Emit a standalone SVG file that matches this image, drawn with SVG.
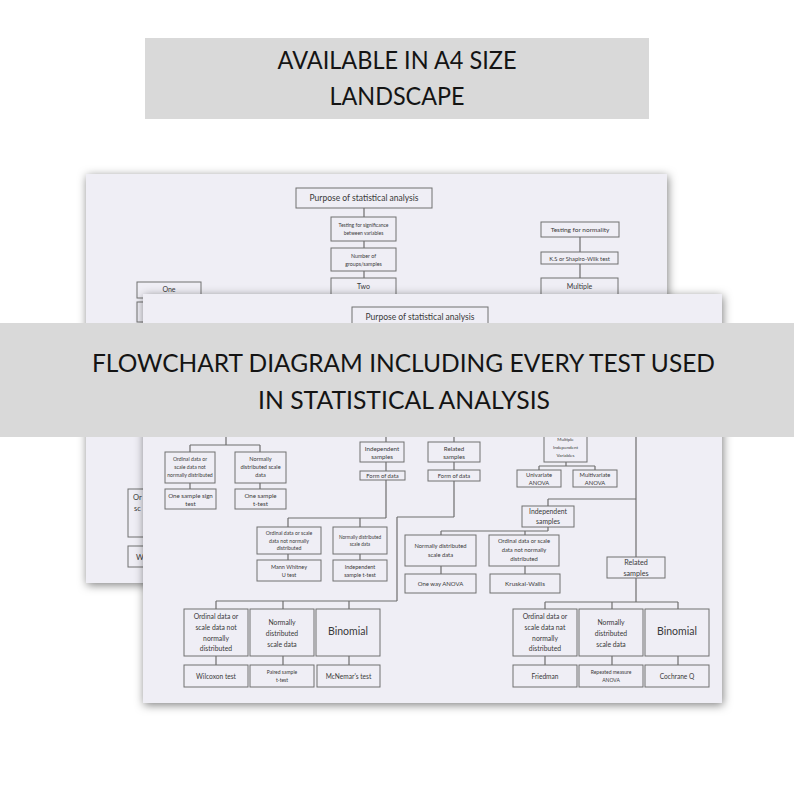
<svg xmlns="http://www.w3.org/2000/svg" width="794" height="794" viewBox="0 0 794 794">
<defs>
<filter id="sh" x="-10%" y="-10%" width="120%" height="125%">
<feDropShadow dx="1" dy="2" stdDeviation="5" flood-color="#000" flood-opacity="0.5"/>
</filter>
<style>
.sheet{fill:#efeef5}
.b{fill:#efeef5;stroke:#707070;stroke-width:1}
.c{fill:none;stroke:#6e6e6e;stroke-width:1.2}
.t{font-family:Lato,"Liberation Sans",sans-serif;fill:#3a3a3a;text-anchor:middle}
.ts{font-family:Lato,"Liberation Sans",sans-serif;fill:#3a3a3a;text-anchor:start}
.ban{fill:#d9d9d9}
.bt{font-family:Lato,"Liberation Sans",sans-serif;fill:#141414;text-anchor:middle;font-size:25px}
</style>
</defs>
<rect width="794" height="794" fill="#ffffff"/>

<g id="top-banner">
<rect class="ban" x="145" y="38" width="504" height="81"/>
<text class="bt" x="397" y="69" textLength="239" lengthAdjust="spacingAndGlyphs">AVAILABLE IN A4 SIZE</text>
<text class="bt" x="397" y="105" textLength="135" lengthAdjust="spacingAndGlyphs">LANDSCAPE</text>
</g>

<g id="back-sheet">
<rect class="sheet" x="86" y="174" width="581" height="409" filter="url(#sh)"/>
<g id="back-connectors">
<path class="c" d="M364 208V217M364 241V248M364 271V278M580 237V252M580 264V278"/>
</g>
<g id="b-purpose"><rect class="b" x="296" y="188" width="136" height="20"/><text class="t" x="364" y="201" font-size="8.5">Purpose of statistical analysis</text></g>
<g id="b-sig"><rect class="b" x="331" y="217" width="65" height="24"/><text class="t" x="363.5" y="227" font-size="5">Testing for significance</text><text class="t" x="363.5" y="235" font-size="5">between variables</text></g>
<g id="b-num"><rect class="b" x="331" y="248" width="65" height="23"/><text class="t" x="363.5" y="257.5" font-size="5.3">Number of</text><text class="t" x="363.5" y="266" font-size="5.3">groups/samples</text></g>
<g id="b-two"><rect class="b" x="331" y="278" width="65" height="20"/><text class="t" x="363.5" y="289" font-size="7">Two</text></g>
<g id="b-one"><rect class="b" x="137" y="282" width="64" height="16"/><text class="t" x="169" y="291.5" font-size="7">One</text></g>
<g id="b-one-child"><rect class="b" x="137" y="302" width="40" height="20"/></g>
<g id="b-normality"><rect class="b" x="541" y="222" width="78" height="15"/><text class="t" x="580" y="232" font-size="6.5">Testing for normality</text></g>
<g id="b-ks"><rect class="b" x="541" y="252" width="77" height="12"/><text class="t" x="579.5" y="260.5" font-size="5.8">K.S or Shapiro-Wilk test</text></g>
<g id="b-multiple"><rect class="b" x="541" y="278" width="77" height="20"/><text class="t" x="579.5" y="289" font-size="7">Multiple</text></g>
<g id="b-ordinal"><rect class="b" x="128" y="489" width="40" height="48"/><text class="ts" x="133" y="500" font-size="7.5">Or</text><text class="ts" x="134" y="511" font-size="7.5">sc</text></g>
<g id="b-wilcoxon"><rect class="b" x="128" y="546" width="40" height="21"/><text class="ts" x="136" y="560" font-size="7.5">W</text></g>
</g>

<g id="front-sheet">
<rect class="sheet" x="143" y="294" width="579" height="409" filter="url(#sh)"/>
<g id="connectors">
<path class="c" d="M420 325V330M226 437V445M190 445H260M190 445V452M260 445V452M190 483V489M260 483V489"/>
<path class="c" d="M386 437V442M386 462V471M386 480V518M288 518H386M288 518V527M360 518V527M288 554V560M360 554V560"/>
<path class="c" d="M454 437V442M454 462V470M454 481V517M397 517H454M397 517V601M216 601H397M216 601V609M283 601V609M349 601V609M216 656V665M283 656V665M349 656V665"/>
<path class="c" d="M566 462V466M539 466H595M539 466V470M595 466V470"/>
<path class="c" d="M636 437V557M548 499H636M548 499V506M548 527V531M441 531H548M441 531V535M525 531V535M441 566V574M525 566V574"/>
<path class="c" d="M636 578V602M545 602H678M545 602V609M612 602V609M678 602V609M545 656V665M612 656V665M678 656V665"/>
</g>
<g id="purpose"><rect class="b" x="352" y="307" width="136" height="20"/><text class="t" x="420" y="319.5" font-size="8.5">Purpose of statistical analysis</text></g>
<g id="one-ordinal"><rect class="b" x="165" y="452" width="50" height="31"/><text class="t" x="190" y="461" font-size="5.2">Ordinal data or</text><text class="t" x="190" y="469" font-size="5.2">scale data not</text><text class="t" x="190" y="477" font-size="5.2">normally distributed</text></g>
<g id="one-normal"><rect class="b" x="235" y="452" width="51" height="31"/><text class="t" x="260.5" y="461" font-size="5.6">Normally</text><text class="t" x="260.5" y="469" font-size="5.6">distributed scale</text><text class="t" x="260.5" y="477" font-size="5.6">data</text></g>
<g id="sign-test"><rect class="b" x="165" y="489" width="51" height="20"/><text class="t" x="190.5" y="497.5" font-size="6.2">One sample sign</text><text class="t" x="190.5" y="505.5" font-size="6.2">test</text></g>
<g id="one-t-test"><rect class="b" x="235" y="489" width="51" height="20"/><text class="t" x="260.5" y="497.5" font-size="6.2">One sample</text><text class="t" x="260.5" y="505.5" font-size="6.2">t-test</text></g>
<g id="indep1"><rect class="b" x="360" y="442" width="44" height="20"/><text class="t" x="382" y="450.5" font-size="6.2">Independent</text><text class="t" x="382" y="458.5" font-size="6.2">samples</text></g>
<g id="form1"><rect class="b" x="360" y="471" width="45" height="9"/><text class="t" x="382.5" y="478" font-size="5.8">Form of data</text></g>
<g id="related1"><rect class="b" x="428" y="442" width="52" height="20"/><text class="t" x="454" y="450.5" font-size="6.2">Related</text><text class="t" x="454" y="458.5" font-size="6.2">samples</text></g>
<g id="form2"><rect class="b" x="428" y="470" width="52" height="11"/><text class="t" x="454" y="478" font-size="5.8">Form of data</text></g>
<g id="two-ind-ordinal"><rect class="b" x="257" y="527" width="64" height="27"/><text class="t" x="289" y="535" font-size="5.2">Ordinal data or scale</text><text class="t" x="289" y="542.5" font-size="5.2">data not normally</text><text class="t" x="289" y="550" font-size="5.2">distributed</text></g>
<g id="two-ind-normal"><rect class="b" x="333" y="527" width="54" height="27"/><text class="t" x="360" y="538.5" font-size="4.7">Normally distributed</text><text class="t" x="360" y="545.5" font-size="4.7">scale data</text></g>
<g id="mann-whitney"><rect class="b" x="257" y="560" width="64" height="21"/><text class="t" x="289" y="569" font-size="5.5">Mann Whitney</text><text class="t" x="289" y="577" font-size="5.5">U test</text></g>
<g id="indep-t"><rect class="b" x="333" y="560" width="54" height="21"/><text class="t" x="360" y="569" font-size="5.5">Independent</text><text class="t" x="360" y="577" font-size="5.5">sample t-test</text></g>
<g id="two-rel-ordinal"><rect class="b" x="184" y="609" width="64" height="47"/><text class="t" x="216" y="619" font-size="6.8">Ordinal data or</text><text class="t" x="216" y="630" font-size="6.8">scale data not</text><text class="t" x="216" y="641" font-size="6.8">normally</text><text class="t" x="216" y="651" font-size="6.8">distributed</text></g>
<g id="two-rel-normal"><rect class="b" x="250" y="609" width="64" height="47"/><text class="t" x="282" y="625" font-size="6.8">Normally</text><text class="t" x="282" y="636" font-size="6.8">distributed</text><text class="t" x="282" y="646.5" font-size="6.8">scale data</text></g>
<g id="two-rel-binomial"><rect class="b" x="316" y="609" width="64" height="47"/><text class="t" x="348" y="635" font-size="10.5">Binomial</text></g>
<g id="wilcoxon"><rect class="b" x="184" y="665" width="64" height="22"/><text class="t" x="216" y="678.5" font-size="6.6">Wilcoxon test</text></g>
<g id="paired-t"><rect class="b" x="250" y="665" width="64" height="22"/><text class="t" x="282" y="674" font-size="5">Paired sample</text><text class="t" x="282" y="682" font-size="5">t-test</text></g>
<g id="mcnemar"><rect class="b" x="317" y="665" width="63" height="22"/><text class="t" x="348.5" y="678.5" font-size="6.6">McNemar's test</text></g>
<g id="multi-iv"><rect class="b" x="544" y="428" width="43" height="34"/><text class="t" x="565.5" y="441" font-size="4.5">Multiple</text><text class="t" x="565.5" y="449" font-size="4.5">Independent</text><text class="t" x="565.5" y="456.5" font-size="4.5">Variables</text></g>
<g id="univariate"><rect class="b" x="517" y="470" width="44" height="17"/><text class="t" x="539" y="476.5" font-size="5.8">Univariate</text><text class="t" x="539" y="485" font-size="5.8">ANOVA</text></g>
<g id="multivariate"><rect class="b" x="573" y="470" width="44" height="17"/><text class="t" x="595" y="476.5" font-size="5.8">Multivariate</text><text class="t" x="595" y="485" font-size="5.8">ANOVA</text></g>
<g id="indep2"><rect class="b" x="522" y="506" width="52" height="21"/><text class="t" x="548" y="514" font-size="6.8">Independent</text><text class="t" x="548" y="524" font-size="6.8">samples</text></g>
<g id="multi-normal"><rect class="b" x="405" y="535" width="71" height="31"/><text class="t" x="440.5" y="548" font-size="5.8">Normally distributed</text><text class="t" x="440.5" y="557" font-size="5.8">scale data</text></g>
<g id="multi-ordinal"><rect class="b" x="489" y="535" width="70" height="31"/><text class="t" x="524" y="543" font-size="5.8">Ordinal data or scale</text><text class="t" x="524" y="552" font-size="5.8">data not normally</text><text class="t" x="524" y="561" font-size="5.8">distributed</text></g>
<g id="one-way-anova"><rect class="b" x="405" y="574" width="71" height="19"/><text class="t" x="440.5" y="585.5" font-size="6">One way ANOVA</text></g>
<g id="kruskal"><rect class="b" x="490" y="574" width="70" height="19"/><text class="t" x="525" y="585.5" font-size="6.4">Kruskal-Wallis</text></g>
<g id="related2"><rect class="b" x="607" y="557" width="58" height="21"/><text class="t" x="636" y="565" font-size="7.2">Related</text><text class="t" x="636" y="575.5" font-size="7.2">samples</text></g>
<g id="multi-rel-ordinal"><rect class="b" x="513" y="609" width="64" height="47"/><text class="t" x="545" y="619" font-size="6.8">Ordinal data or</text><text class="t" x="545" y="630" font-size="6.8">scale data nat</text><text class="t" x="545" y="641" font-size="6.8">normally</text><text class="t" x="545" y="651" font-size="6.8">distributed</text></g>
<g id="multi-rel-normal"><rect class="b" x="579" y="609" width="64" height="47"/><text class="t" x="611" y="625" font-size="6.8">Normally</text><text class="t" x="611" y="636" font-size="6.8">distributed</text><text class="t" x="611" y="646.5" font-size="6.8">scale data</text></g>
<g id="multi-rel-binomial"><rect class="b" x="645" y="609" width="64" height="47"/><text class="t" x="677" y="635" font-size="10.5">Binomial</text></g>
<g id="friedman"><rect class="b" x="513" y="665" width="64" height="22"/><text class="t" x="545" y="678.5" font-size="6.6">Friedman</text></g>
<g id="repeated"><rect class="b" x="579" y="665" width="64" height="22"/><text class="t" x="611" y="674" font-size="5">Repeated measure</text><text class="t" x="611" y="682" font-size="5">ANOVA</text></g>
<g id="cochrane"><rect class="b" x="645" y="665" width="64" height="22"/><text class="t" x="677" y="678.5" font-size="6.6">Cochrane Q</text></g>
</g>

<g id="middle-banner">
<rect class="ban" x="0" y="323" width="794" height="114"/>
<text class="bt" x="403.5" y="372" textLength="623" lengthAdjust="spacingAndGlyphs">FLOWCHART DIAGRAM INCLUDING EVERY TEST USED</text>
<text class="bt" x="404" y="409" textLength="292" lengthAdjust="spacingAndGlyphs">IN STATISTICAL ANALYSIS</text>
</g>
</svg>
